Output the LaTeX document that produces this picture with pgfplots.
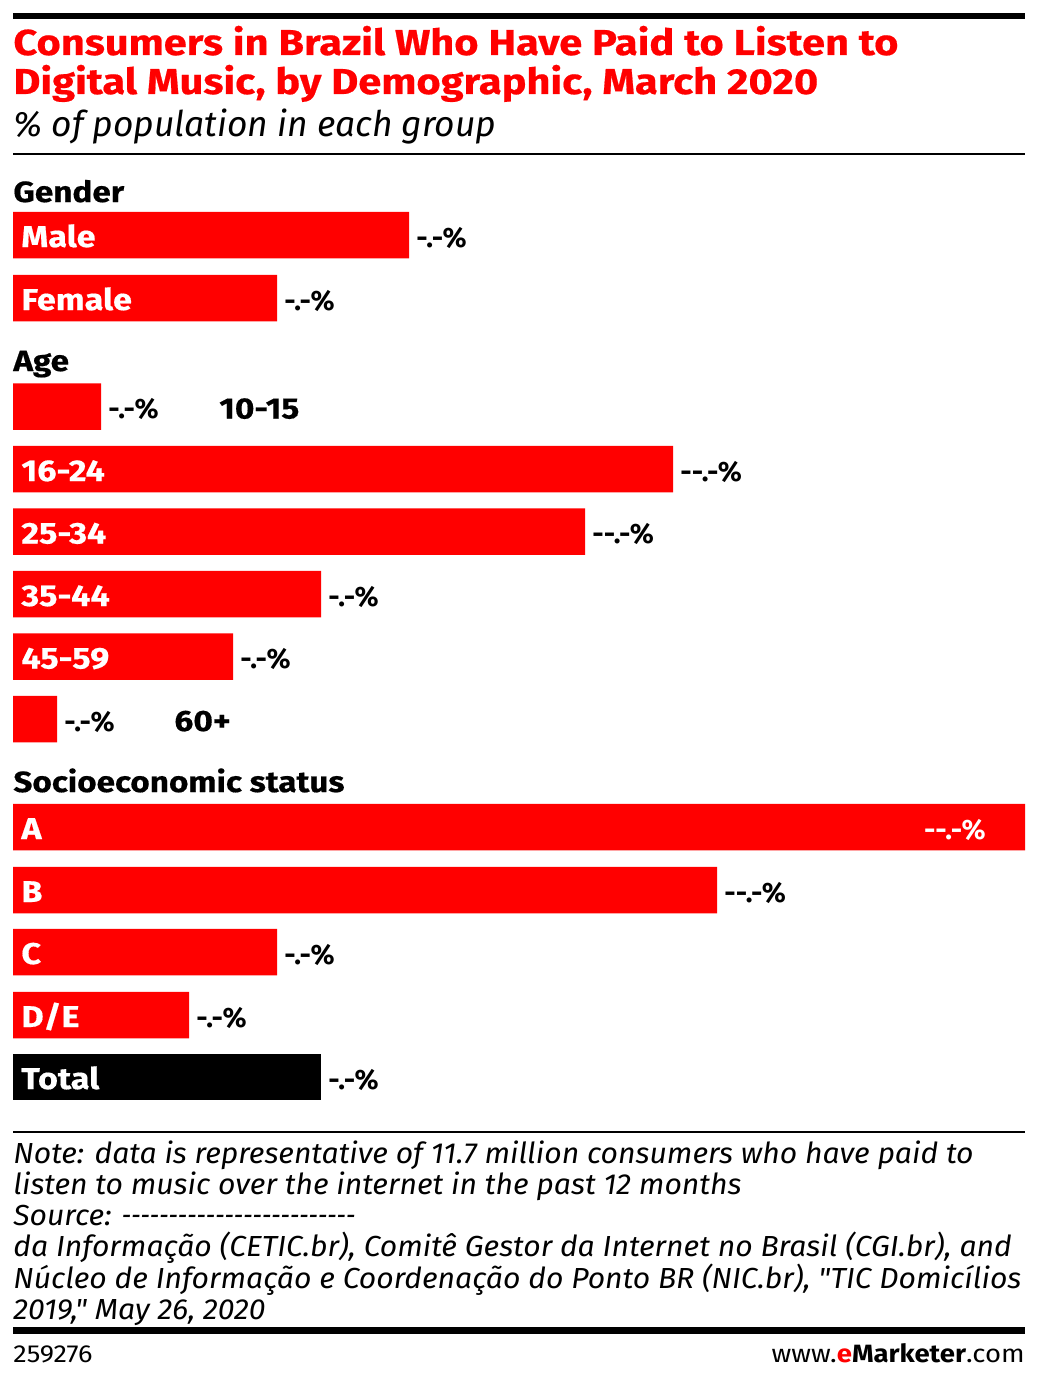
\documentclass[border=0pt]{standalone}
\usepackage{pgfplots}
\pgfplotsset{compat=1.18}
\usepackage{fontspec}
\setmainfont{Fira Sans}
\newfontfamily\notefont[FakeStretch=1.04]{Fira Sans}
\newfontfamily\footfont[FakeStretch=1.1]{Fira Sans}
\newfontfamily\widefont[FakeStretch=1.14, FakeBold=0.5]{Fira Sans}
\newfontfamily\titlefont[FakeStretch=1.155, FakeBold=0.5]{Fira Sans}
\definecolor{emred}{RGB}{255,0,0}
\def\dsh{-{}}
\begin{document}
\begin{tikzpicture}[x=0.5pt,y=-0.5pt]
\path (0,0) rectangle (1038,1380);
\fill (13,13) rectangle (1025,19);
\node[anchor=base west, inner sep=0, text=emred, font=\titlefont\fontsize{18}{20}\selectfont\bfseries] at (13,55) {Consumers in Brazil Who Have Paid to Listen to};
\node[anchor=base west, inner sep=0, text=emred, font=\titlefont\fontsize{18}{20}\selectfont\bfseries] at (13,94) {Digital Music, by Demographic, March 2020};
\node[anchor=base west, inner sep=0, font=\fontsize{17.7}{20}\selectfont\itshape] at (13,137) {\% of population in each group};
\fill (13,153) rectangle (1025,155);
\begin{axis}[at={(6.5pt,-555pt)}, anchor=south west,
  width=506pt, height=480pt, scale only axis,
  xmin=0, xmax=23, ymin=150, ymax=1110, y dir=reverse,
  hide axis, clip=false]
\addplot[xbar, fill=emred, draw=none, bar width=46.5] coordinates {
 (9,235) (6,298)
 (2,406.5) (15,469) (13,531.5) (7,594) (5,656.5) (1,719)
 (23,827) (16,890) (6,952) (4,1015)};
\addplot[xbar, fill=black, draw=none, bar width=46.5] coordinates {(7,1077)};
% section headers
\begin{scope}[every node/.style={anchor=base west, inner sep=0, font=\widefont\fontsize{14.6}{16}\selectfont\bfseries}]
\node at (0,202) {Gender};
\node at (0,371) {Age};
\node at (0,792) {Socioeconomic status};
\end{scope}
% category labels inside bars
\begin{scope}[every node/.style={anchor=base west, inner sep=0, text=white, font=\widefont\fontsize{15}{16}\selectfont\bfseries, xshift=4pt}]
\node at (0,247) {Male};
\node at (0,310) {Female};
\node at (0,481) {16-24};
\node at (0,543.5) {25-34};
\node at (0,606) {35-44};
\node at (0,668.5) {45-59};
\node at (0,839) {A};
\node at (0,902) {B};
\node at (0,964) {C};
\node at (0,1027) {D/E};
\node at (0,1089) {Total};
\end{scope}
% value labels
\begin{scope}[every node/.style={anchor=base west, inner sep=0, font=\fontsize{14}{16}\selectfont\bfseries, xshift=3.5pt}]
\node at (9,247) {-.-\%};
\node at (6,310) {-.-\%};
\node at (2,418.5) {-.-\%};
\node at (15,481) {-{}-.-\%};
\node at (13,543.5) {-{}-.-\%};
\node at (7,606) {-.-\%};
\node at (5,668.5) {-.-\%};
\node at (1,731) {-.-\%};
\node at (16,902) {-{}-.-\%};
\node at (6,964) {-.-\%};
\node at (4,1027) {-.-\%};
\node at (7,1089) {-.-\%};
\node[xshift=-23pt, anchor=base east, text=white] at (23,839) {-{}-.-\%};
\end{scope}
% outside category labels for short bars
\begin{scope}[every node/.style={anchor=base west, inner sep=0, font=\widefont\fontsize{14.7}{16}\selectfont\bfseries}]
\node at (4.68,418.5) {10-15};
\node at (3.66,731) {60+};
\end{scope}
\end{axis}
\fill (13,1131) rectangle (1025,1133);
\begin{scope}[every node/.style={anchor=base west, inner sep=0, font=\notefont\fontsize{14.5}{16}\selectfont\itshape}]
\node at (13,1163) {Note: data is representative of 11.7 million consumers who have paid to};
\node at (13,1194) {listen to music over the internet in the past 12 months};
\node at (13,1225) {Source: \scalebox{0.78}[1]{\dsh\dsh\dsh\dsh\dsh\dsh\dsh\dsh\dsh\dsh\dsh\dsh\dsh\dsh\dsh\dsh\dsh\dsh\dsh\dsh\dsh\dsh\dsh\dsh\dsh}};
\node at (13,1256) {da Informação (CETIC.br), Comitê Gestor da Internet no Brasil (CGI.br), and};
\node at (13,1288) {Núcleo de Informação e Coordenação do Ponto BR (NIC.br), "TIC Domicílios};
\node at (13,1319) {2019," May 26, 2020};
\end{scope}
\fill (13,1327) rectangle (1025,1334);
\node[anchor=base west, inner sep=0, font=\footfont\fontsize{12.3}{14}\selectfont] at (13,1362) {259276};
\node[anchor=base east, inner sep=0, font=\footfont\fontsize{12.5}{14}\selectfont] at (1025,1362) {www.{\bfseries\color{emred}e}{\bfseries Marketer}.com};
\pgfresetboundingbox
\path[use as bounding box] (0,0) rectangle (1038,1380);
\end{tikzpicture}
\end{document}
